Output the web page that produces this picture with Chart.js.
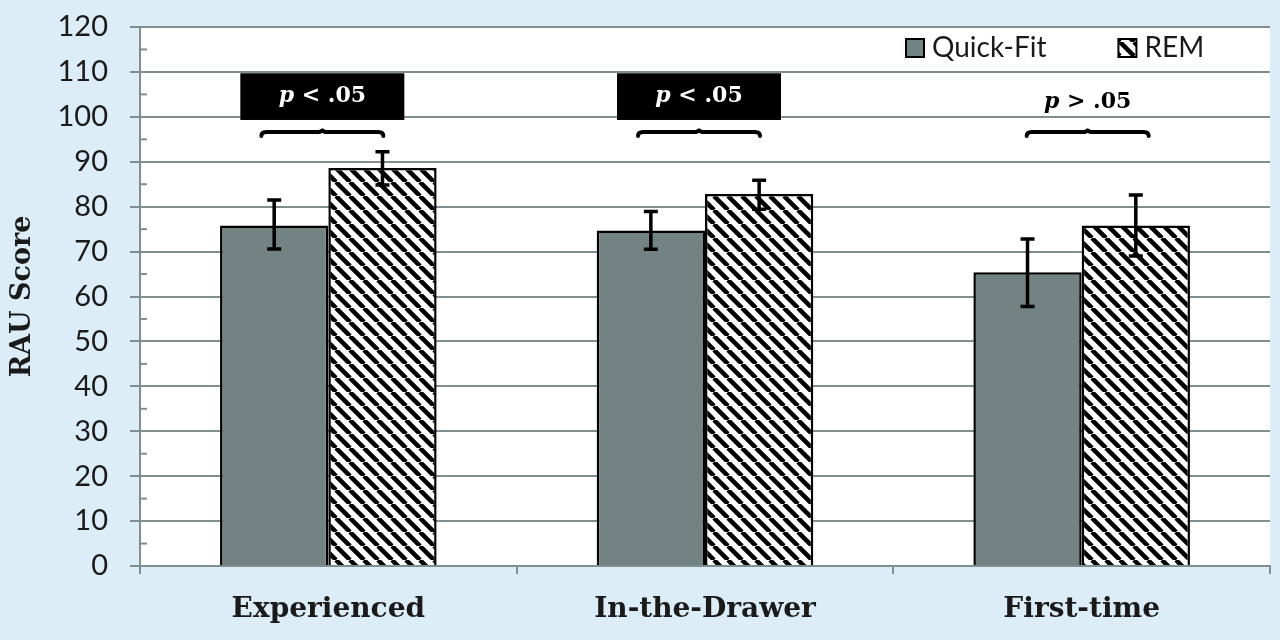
<!DOCTYPE html>
<html>
<head>
<meta charset="utf-8">
<script src="https://cdn.jsdelivr.net/npm/chart.js@4.4.1/dist/chart.umd.min.js"></script>
<style>
    html, body { margin: 0; padding: 0; background: #dcedf8; }
    #wrap { width: 1280px; height: 640px; }
</style>
</head>
<body>
<div id="wrap"><canvas id="myChart" width="1280" height="640"></canvas></div>
<script>
// values
const categories = ['Experienced', 'In-the-Drawer', 'First-time'];
const seriesNames = ['Quick-Fit', 'REM'];
const quickFit = [75.8, 74.7, 65.4];
const quickFitLow = [70.6, 70.5, 57.8];
const quickFitHigh = [81.5, 78.9, 72.8];
const rem = [88.6, 82.8, 75.8];
const remLow = [84.8, 79.4, 69.0];
const remHigh = [92.2, 85.9, 82.6];
const yMin = 0;
const yMax = 120;
const yStep = 10;

// significance notes above each group
const pSigns = ['<', '<', '>'];
const pValues = ['.05', '.05', '.05'];
const pBoxed = [true, true, false];
const pTextY = [104.5, 104.5, 103.3];
const pBoxTop = 109.7;
const pBoxBottom = 99.3;
const bracketY = 96.6;

const gridColor = '#7f8e8e';
const textColor = '#1a1a1a';
const sansFont = 'Lato';
const serifFont = 'DejaVu Serif';

function makeHatch() {
    const c = document.createElement('canvas');
    c.width = 14;
    c.height = 14;
    const g = c.getContext('2d');
    g.fillStyle = '#ffffff';
    g.fillRect(0, 0, 14, 14);
    g.strokeStyle = '#000000';
    g.lineWidth = 4.5;
    g.beginPath();
    g.moveTo(-14, 0); g.lineTo(0, 14);
    g.moveTo(0, 0); g.lineTo(14, 14);
    g.moveTo(14, 0); g.lineTo(28, 14);
    g.stroke();
    return g.createPattern(c, 'repeat');
}

const hatch = makeHatch();
const errLow = [quickFitLow, remLow];
const errHigh = [quickFitHigh, remHigh];

// white plot area on the blue page
const plotBackground = {
    id: 'plotBackground',
    beforeDraw(chart) {
        const { ctx, chartArea: a } = chart;
        ctx.save();
        ctx.fillStyle = '#ffffff';
        ctx.fillRect(a.left, a.top, a.right - a.left, a.bottom - a.top);
        ctx.restore();
    }
};

// short minor ticks at the fives, inside the plot
const minorTicks = {
    id: 'minorTicks',
    afterDraw(chart) {
        const { ctx } = chart;
        const y = chart.scales.y;
        ctx.save();
        ctx.strokeStyle = gridColor;
        ctx.lineWidth = 2;
        for (let v = yMin + yStep / 2; v < yMax; v += yStep) {
            const py = y.getPixelForValue(v);
            ctx.beginPath();
            ctx.moveTo(y.right, py);
            ctx.lineTo(y.right + 7, py);
            ctx.stroke();
        }
        ctx.restore();
    }
};

const errorBars = {
    id: 'errorBars',
    afterDatasetsDraw(chart) {
        const { ctx } = chart;
        const y = chart.scales.y;
        ctx.save();
        ctx.strokeStyle = '#000000';
        ctx.lineWidth = 3.5;
        chart.data.datasets.forEach((ds, i) => {
            chart.getDatasetMeta(i).data.forEach((bar, j) => {
                const top = y.getPixelForValue(errHigh[i][j]);
                const bot = y.getPixelForValue(errLow[i][j]);
                ctx.beginPath();
                ctx.moveTo(bar.x, top); ctx.lineTo(bar.x, bot);
                ctx.moveTo(bar.x - 7, top); ctx.lineTo(bar.x + 7, top);
                ctx.moveTo(bar.x - 7, bot); ctx.lineTo(bar.x + 7, bot);
                ctx.stroke();
            });
        });
        ctx.restore();
    }
};

const pNotes = {
    id: 'pNotes',
    afterDraw(chart) {
        const { ctx } = chart;
        const x = chart.scales.x;
        const y = chart.scales.y;
        const shift = [-6, -6, 6];
        ctx.save();
        categories.forEach((c, j) => {
            const cx = x.getPixelForValue(j) + shift[j];
            if (pBoxed[j]) {
                const t = y.getPixelForValue(pBoxTop);
                const b = y.getPixelForValue(pBoxBottom);
                ctx.fillStyle = '#000000';
                ctx.fillRect(cx - 82, t, 164, b - t);
            }
            // italic p followed by the rest
            const pFont = 'italic bold 22px ' + serifFont;
            const restFont = 'bold 22px ' + serifFont;
            const rest = ' ' + pSigns[j] + ' ' + pValues[j];
            ctx.font = pFont;
            const wp = ctx.measureText('p').width;
            ctx.font = restFont;
            const wr = ctx.measureText(rest).width;
            const sx = cx - (wp + wr) / 2;
            const ty = y.getPixelForValue(pTextY[j]);
            ctx.fillStyle = pBoxed[j] ? '#ffffff' : '#000000';
            ctx.textBaseline = 'middle';
            ctx.textAlign = 'left';
            ctx.font = pFont;
            ctx.fillText('p', sx, ty);
            ctx.font = restFont;
            ctx.fillText(rest, sx + wp, ty);

            // bracket
            const by = y.getPixelForValue(bracketY);
            const x1 = cx - 61, x2 = cx + 61;
            ctx.strokeStyle = '#000000';
            ctx.lineWidth = 4;
            ctx.lineCap = 'round';
            ctx.beginPath();
            ctx.moveTo(x1, by + 4);
            ctx.quadraticCurveTo(x1, by, x1 + 5, by);
            ctx.lineTo(cx - 3, by);
            ctx.lineTo(cx, by - 1.5);
            ctx.lineTo(cx + 3, by);
            ctx.lineTo(x2 - 5, by);
            ctx.quadraticCurveTo(x2, by, x2, by + 4);
            ctx.stroke();
        });
        ctx.restore();
    }
};

const boxLegend = {
    id: 'boxLegend',
    afterDraw(chart) {
        const { ctx, chartArea: a } = chart;
        ctx.save();
        ctx.font = '28px ' + sansFont;
        ctx.textBaseline = 'middle';
        ctx.textAlign = 'left';
        let lx = a.right - 364;
        const ly = a.top + 21;
        chart.data.datasets.forEach((ds) => {
            ctx.fillStyle = ds.backgroundColor;
            ctx.fillRect(lx, ly - 9, 18, 18);
            ctx.strokeStyle = '#000000';
            ctx.lineWidth = 2;
            ctx.strokeRect(lx, ly - 9, 18, 18);
            ctx.fillStyle = textColor;
            ctx.fillText(ds.label, lx + 26, ly);
            lx += 26 + ctx.measureText(ds.label).width + 72;
        });
        ctx.restore();
    }
};

const ctx = document.getElementById('myChart').getContext('2d');

const chart = new Chart(ctx, {
    type: 'bar',
    data: {
        labels: categories,
        datasets: [
            {
                label: seriesNames[0],
                data: quickFit,
                backgroundColor: '#738383',
                borderColor: '#000000',
                borderWidth: 2.5
            },
            {
                label: seriesNames[1],
                data: rem,
                backgroundColor: hatch,
                borderColor: '#000000',
                borderWidth: 2.5
            }
        ]
    },
    options: {
        responsive: false,
        animation: false,
        devicePixelRatio: 1,
        layout: { padding: { top: 27, right: 10, left: 0, bottom: 0 } },
        datasets: {
            bar: { barPercentage: 1, categoryPercentage: 0.575 }
        },
        scales: {
            x: {
                afterFit: (s) => { s.height = 74; },
                grid: {
                    offset: true,
                    drawOnChartArea: false,
                    drawTicks: true,
                    tickLength: 8,
                    color: gridColor,
                    lineWidth: 2
                },
                border: { color: gridColor, width: 2 },
                ticks: {
                    padding: 19,
                    color: textColor,
                    font: { family: serifFont, weight: 'bold', size: 28 }
                }
            },
            y: {
                min: yMin,
                max: yMax,
                afterFit: (s) => {
                    s.width = 140;
                    s.paddingTop = 0;
                    s.paddingBottom = 0;
                },
                grid: {
                    color: gridColor,
                    lineWidth: 2,
                    tickLength: 10
                },
                border: { color: gridColor, width: 2 },
                ticks: {
                    stepSize: yStep,
                    padding: 22,
                    color: textColor,
                    font: { family: sansFont, size: 29 }
                },
                title: {
                    display: true,
                    text: 'RAU Score',
                    color: textColor,
                    padding: { top: 7, bottom: 0 },
                    font: { family: serifFont, weight: 'bold', size: 27 }
                }
            }
        },
        plugins: {
            legend: { display: false },
            tooltip: { enabled: false }
        }
    },
    plugins: [plotBackground, errorBars, minorTicks, pNotes, boxLegend]
});
</script>
</body>
</html>
